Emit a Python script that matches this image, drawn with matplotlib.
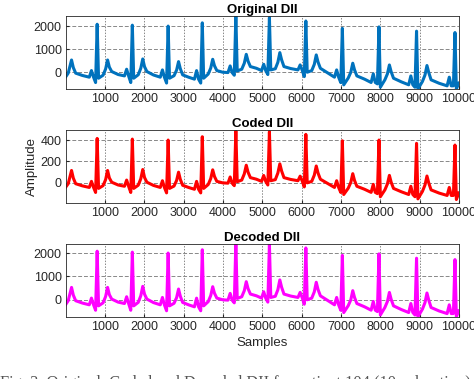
import matplotlib
matplotlib.use('Agg')
import matplotlib.pyplot as plt

# Abtastpunkte (Stuetzstellen) des EKG-Verlaufs
samples = [1, 60, 145, 190, 250, 420,
           597, 652, 702, 757, 797, 832, 947, 1012, 1062, 1107, 1167, 1330,
           1492, 1547, 1597, 1652, 1692, 1727, 1842, 1907, 1957, 2002, 2062, 2230,
           2403, 2458, 2508, 2563, 2603, 2638, 2753, 2818, 2868, 2913, 2973, 3130,
           3272, 3327, 3377, 3432, 3472, 3507, 3622, 3687, 3737, 3782, 3842, 3990,
           4126, 4181, 4231, 4286, 4326, 4361, 4476, 4541, 4591, 4636, 4696, 4850,
           4980, 5035, 5085, 5140, 5180, 5215, 5330, 5395, 5445, 5490, 5550, 5720,
           5907, 5962, 6012, 6067, 6107, 6142, 6257, 6322, 6372, 6417, 6477, 6680,
           6836, 6891, 6941, 6996, 7036, 7071, 7186, 7251, 7301, 7346, 7406, 7600,
           7768, 7823, 7873, 7928, 7968, 8003, 8118, 8183, 8233, 8278, 8338, 8540,
           8724, 8779, 8829, 8884, 8924, 8959, 9074, 9139, 9189, 9234, 9294, 9500,
           9702, 9757, 9807, 9862, 9902, 9937, 10000]

original_dii = [-190, -40, 530, 200, -40, -140,
                -215, 72, -200, -448, 2080, -260, -130, 140, 530, 220, 30, -100,
                -160, 130, -160, -448, 2040, -260, -110, 170, 575, 240, 30, -120,
                -215, 100, -215, -470, 2000, -260, -150, 90, 460, 150, -115, -220,
                -300, 70, -300, -470, 2140, -260, -80, 180, 560, 280, 72, 0,
                -15, 273, -15, -130, 2440, 56, 130, 390, 775, 480, 245, 170,
                72, 345, 72, -100, 2370, 100, 150, 430, 850, 540, 245, 160,
                100, 316, 100, -190, 2220, 0, 70, 340, 750, 440, 170, -50,
                -215, 100, -215, -450, 1900, -547, -250, 0, 390, 100, -160, -300,
                -445, -70, -445, -505, 1965, -650, -330, -70, 315, 20, -260, -420,
                -545, -160, -545, -650, 1780, -730, -400, -120, 290, -10, -330, -480,
                -590, -215, -590, -590, 1720, -720, -475]

coded_dii = [-38, -8, 116, 44, -8, -28,
             -43, 14, -40, -90, 416, -52, -26, 30, 116, 46, 6, -20,
             -32, 26, -32, -90, 410, -52, -22, 38, 125, 50, 6, -24,
             -43, 20, -43, -94, 401, -52, -30, 22, 100, 32, -23, -44,
             -60, 14, -60, -94, 432, -52, -16, 40, 122, 60, 14, 0,
             -3, 55, -3, -26, 488, 11, 26, 84, 165, 100, 49, 34,
             14, 69, 14, -20, 479, 20, 30, 92, 178, 112, 49, 32,
             20, 63, 20, -38, 454, 0, 14, 72, 158, 92, 34, -10,
             -43, 20, -43, -90, 394, -109, -50, 4, 86, 22, -32, -60,
             -89, -14, -89, -101, 401, -130, -66, -10, 70, 6, -52, -84,
             -109, -32, -109, -130, 370, -150, -80, -20, 64, 0, -66, -96,
             -118, -43, -118, -118, 354, -156, -95]

# Dekodiert = verlustfrei, identisch mit Original
decoded_dii = list(original_dii)

x_ticks = [1000, 2000, 3000, 4000, 5000, 6000, 7000, 8000, 9000, 10000]

plt.rcParams['font.family'] = ['Liberation Sans', 'DejaVu Sans']

fig = plt.figure(figsize=(4.74, 3.79), dpi=100)

panels = [
    ('Original DII', original_dii, '#0072BD', [0, 1000, 2000], (-730, 2440), [0.139, 0.765, 0.829, 0.193]),
    ('Coded DII', coded_dii, '#FF0000', [0, 200, 400], (-190, 495), [0.139, 0.464, 0.829, 0.193]),
    ('Decoded DII', decoded_dii, '#FF00FF', [0, 1000, 2000], (-730, 2400), [0.139, 0.164, 0.829, 0.193]),
]

for titel, werte, farbe, yt, ylim, pos in panels:
    ax = fig.add_axes(pos)
    ax.plot(samples, werte, color=farbe, linewidth=2.2, solid_joinstyle='round')
    ax.set_xlim(1, 10000)
    ax.set_ylim(*ylim)
    ax.set_xticks(x_ticks)
    ax.set_yticks(yt)
    ax.set_title(titel, fontsize=9.5, fontweight='bold', pad=2)
    ax.xaxis.grid(True, color='#888888', linestyle=(0, (1.5, 1.5)), linewidth=0.7)
    ax.yaxis.grid(True, color='#888888', linestyle=(0, (4, 2)), linewidth=0.7)
    ax.set_axisbelow(True)
    ax.tick_params(direction='in', length=2.5, labelsize=9, colors='#262626', pad=3)
    for s in ax.spines.values():
        s.set_color('#262626')
        s.set_linewidth(0.6)
    if titel == 'Coded DII':
        ax.set_ylabel('Amplitude', fontsize=9.5, color='#262626', labelpad=2)
    if titel == 'Decoded DII':
        ax.set_xlabel('Samples', fontsize=9.5, color='#262626', labelpad=3)

# Bildunterschrift, unten abgeschnitten wie im Original
fig.text(0.0, 1 - 375 / 379, 'Fig. 3. Original, Coded and Decoded DII for patient 104 (10 s duration)',
         family='Liberation Serif', fontsize=11.8, color='#555555', va='top', ha='left')

plt.savefig('out.png', dpi=100)
